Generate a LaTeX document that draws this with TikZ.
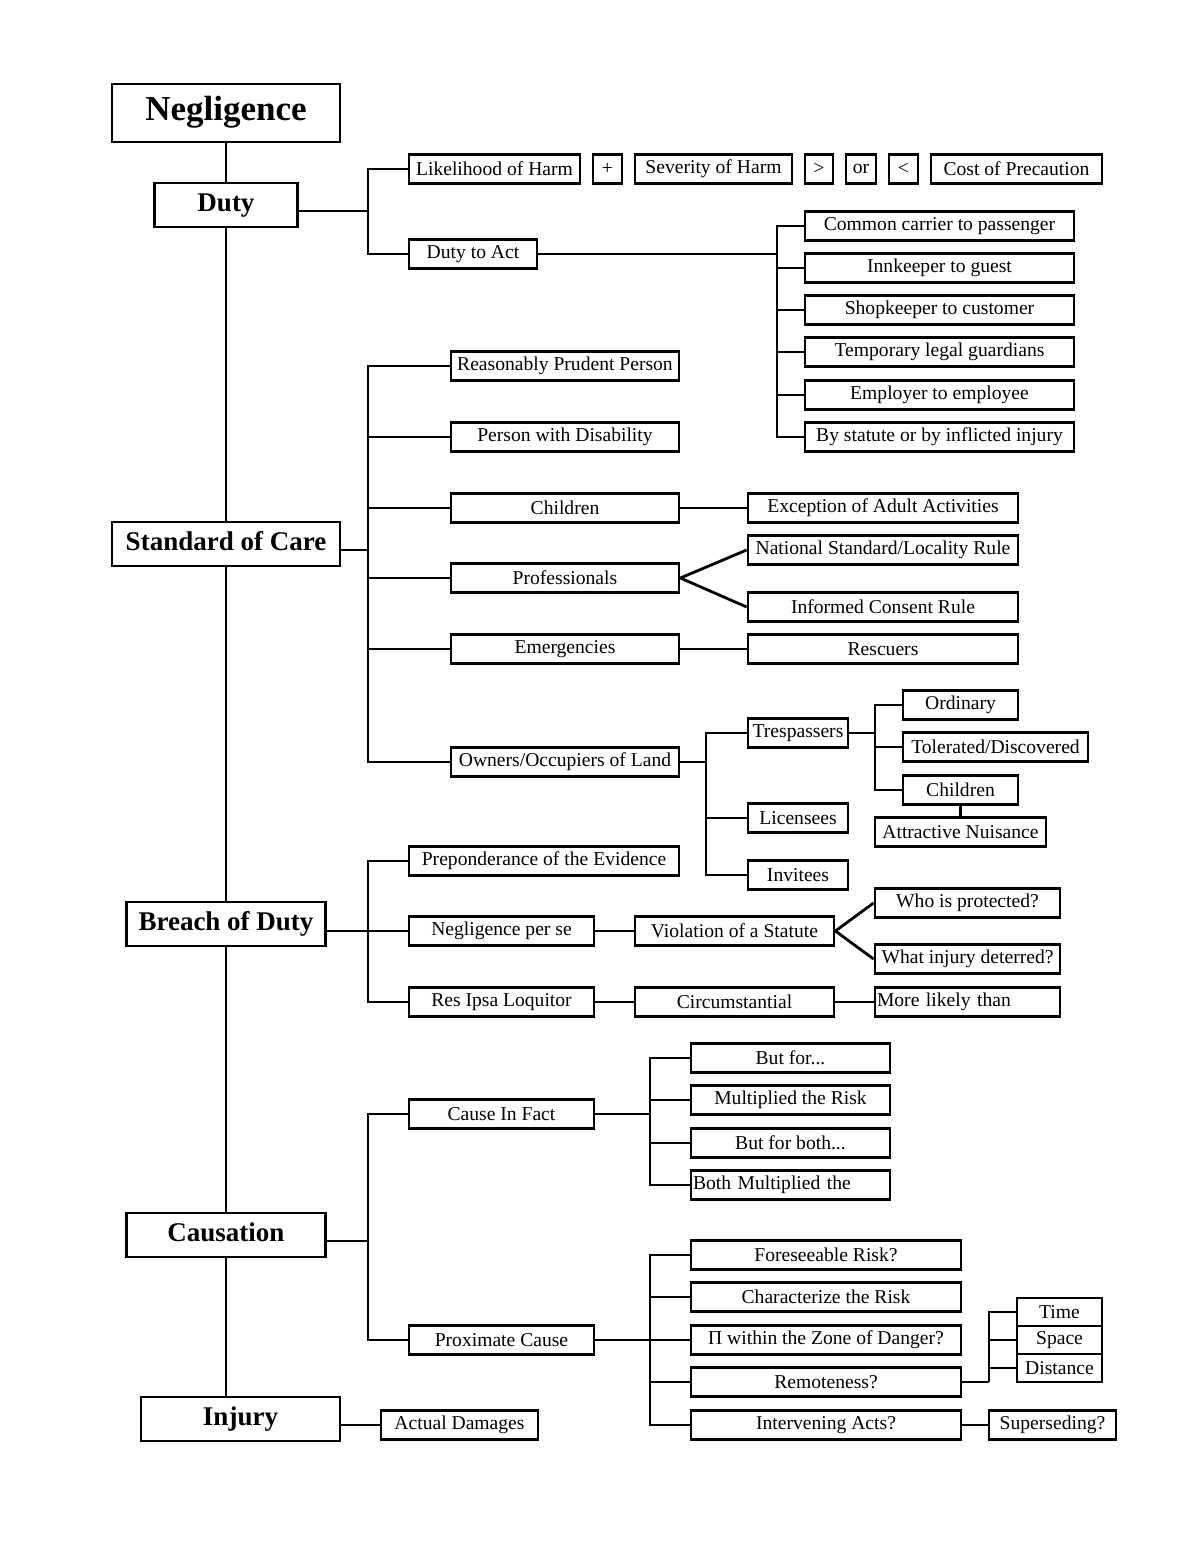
\documentclass[tikz,border=0pt]{standalone}
\usepackage{fontspec}
\setmainfont{Liberation Serif}
\usetikzlibrary{positioning}

\begin{document}
\begin{tikzpicture}[x=0.5pt,y=-0.5pt,line width=1.4pt,
    head/.style={draw,rectangle,inner sep=1pt,minimum height=22pt,text height=9.5pt,text depth=3.2pt,font=\bfseries\fontsize{13.5}{16}\selectfont},
    leaf/.style={draw,rectangle,inner sep=1pt,minimum height=14.8pt,font=\fontsize{9.8}{11}\selectfont},
    flush/.style={leaf,align=left,text width=#1}]
    \fill[white] (0,0) rectangle (1200,1553);

    % main headings
    \node[head, minimum width=114pt, minimum height=29pt, text height=12pt, text depth=4.5pt, font=\bfseries\fontsize{17.5}{20}\selectfont] (neg) at (226,113) {Negligence};
    \node[head, minimum width=71.5pt] (duty) at (226,205) {Duty};
    \node[head, minimum width=114pt] (soc) at (226,544) {Standard of Care};
    \node[head, minimum width=99.5pt] (bod) at (226,924) {Breach of Duty};
    \node[head, minimum width=99.5pt] (cau) at (226,1235) {Causation};
    \node[head, minimum width=99.5pt] (inj) at (240.5,1419) {Injury};

    % duty
    \node[leaf, minimum width=85.5pt] (lik) at (494.5,169) {Likelihood of Harm};
    \node[leaf, minimum width=14.5pt] (plus) [right=5.1pt of lik] {+};
    \node[leaf, minimum width=78.5pt] (sev) [right=5.1pt of plus] {Severity of Harm};
    \node[leaf, minimum width=14pt] (gt) [right=5.1pt of sev] {>};
    \node[leaf, minimum width=15pt] (or) [right=5.1pt of gt] {or};
    \node[leaf, minimum width=14.5pt] (lt) [right=5.1pt of or] {<};
    \node[leaf, minimum width=85.5pt] (cost) [right=5.1pt of lt] {Cost of Precaution};
    \node[leaf, minimum width=64pt] (act) at (473,254) {Duty to Act};

    \node[leaf, minimum width=134.5pt] (cc) at (939.5,226) {Common carrier to passenger};
    \node[leaf, minimum width=134.5pt] (inn) at (939.5,268) {Innkeeper to guest};
    \node[leaf, minimum width=134.5pt] (shop) at (939.5,310) {Shopkeeper to customer};
    \node[leaf, minimum width=134.5pt] (temp) at (939.5,352) {Temporary legal guardians};
    \node[leaf, minimum width=134.5pt] (emp) at (939.5,395) {Employer to employee};
    \node[leaf, minimum width=134.5pt] (stat) at (939.5,437) {By statute or by inflicted injury};

    % standard of care
    \node[leaf, minimum width=114pt] (rpp) at (565,366) {Reasonably Prudent Person};
    \node[leaf, minimum width=114pt] (pwd) at (565,437) {Person with Disability};
    \node[leaf, minimum width=114pt] (chi) at (565,508) {Children};
    \node[leaf, minimum width=114pt] (pro) at (565,578) {Professionals};
    \node[leaf, minimum width=114pt] (eme) at (565,649) {Emergencies};
    \node[leaf, minimum width=114pt] (own) at (565,762) {Owners/Occupiers of Land};

    \node[leaf, minimum width=135pt] (exc) at (883,508) {Exception of Adult Activities};
    \node[leaf, minimum width=135pt] (nat) at (883,550) {National Standard/Locality Rule};
    \node[leaf, minimum width=135pt] (inf) at (883,607) {Informed Consent Rule};
    \node[leaf, minimum width=135pt] (res) at (883,649) {Rescuers};

    \node[leaf, minimum width=50pt] (tre) at (798,733) {Trespassers};
    \node[leaf, minimum width=50pt] (lic) at (798,818) {Licensees};
    \node[leaf, minimum width=50pt] (inv) at (798,875) {Invitees};
    \node[leaf, minimum width=57.5pt] (ord) at (960.5,705) {Ordinary};
    \node[leaf, minimum width=92.5pt] (tol) at (995.5,747) {Tolerated/Discovered};
    \node[leaf, minimum width=57.5pt] (chl) at (960.5,790) {Children};
    \node[leaf, minimum width=85.5pt] (att) at (960.5,832) {Attractive Nuisance};

    % breach of duty
    \node[leaf, minimum width=135pt] (pre) at (544,861) {Preponderance of the Evidence};
    \node[leaf, minimum width=92.5pt] (nps) at (501.5,931) {Negligence per se};
    \node[leaf, minimum width=92.5pt] (rip) at (501.5,1002) {Res Ipsa Loquitor};
    \node[leaf, minimum width=99.5pt] (vio) at (734.5,931) {Violation of a Statute};
    \node[leaf, minimum width=99.5pt] (cir) at (734.5,1002) {Circumstantial};
    \node[leaf, minimum width=92.5pt] (who) at (967.5,903) {Who is protected?};
    \node[leaf, minimum width=92.5pt] (wha) at (967.5,959) {What injury deterred?};
    \node[flush=90.5pt] (mlt) at (967.5,1002) {More likely than};

    % causation
    \node[leaf, minimum width=92.5pt] (cif) at (501.5,1114) {Cause In Fact};
    \node[leaf, minimum width=92.5pt] (pxc) at (501.5,1340) {Proximate Cause};
    \node[leaf, minimum width=99.5pt] (bf) at (790.5,1058) {But for...};
    \node[leaf, minimum width=99.5pt] (mr) at (790.5,1100) {Multiplied the Risk};
    \node[leaf, minimum width=99.5pt] (bfb) at (790.5,1143) {But for both...};
    \node[flush=97.5pt] (bm) at (790.5,1185) {Both Multiplied the};
    \node[leaf, minimum width=135pt] (fr) at (826,1255) {Foreseeable Risk?};
    \node[leaf, minimum width=135pt] (cr) at (826,1297) {Characterize the Risk};
    \node[leaf, minimum width=135pt] (pz) at (826,1340) {Π within the Zone of Danger?};
    \node[leaf, minimum width=135pt] (rem) at (826,1382) {Remoteness?};
    \node[leaf, minimum width=135pt] (ia) at (826,1425) {Intervening Acts?};
    \node[leaf, minimum width=42.5pt, minimum height=14pt] (tim) at (1059.5,1312) {Time};
    \node[leaf, minimum width=42.5pt, minimum height=14pt] (spa) at (1059.5,1340) {Space};
    \node[leaf, minimum width=42.5pt, minimum height=14pt] (dis) at (1059.5,1368) {Distance};
    \node[leaf, minimum width=63.5pt] (sup) at (1052.5,1425) {Superseding?};

    % injury
    \node[leaf, minimum width=78.5pt] (ad) at (459.5,1425) {Actual Damages};

    % junctions
    \coordinate (j1) at (368,211);
    \coordinate (j2) at (777,254);
    \coordinate (j3) at (368,550);
    \coordinate (j4) at (706,762);
    \coordinate (j5) at (875,733);
    \coordinate (j6) at (368,931);
    \coordinate (j7) at (368,1241);
    \coordinate (j8) at (650,1114);
    \coordinate (j9) at (650,1340);
    \coordinate (j10) at (989,1382);

    % spine
    \path (neg) edge (duty)
          (duty) edge (soc)
          (soc) edge (bod)
          (bod) edge (cau);
    \draw (cau.south) -- (cau.south |- inj.north);

    % duty lines
    \draw (duty.east |- j1) -- (j1);
    \draw (lik.west) -| (j1) |- (act.west);
    \draw (act.east) -- (j2);
    \draw (cc.west) -| (j2) |- (stat.west);
    \draw (inn.west) -- (inn.west -| j2)
          (shop.west) -- (shop.west -| j2)
          (temp.west) -- (temp.west -| j2)
          (emp.west) -- (emp.west -| j2);

    % standard of care lines
    \draw (soc.east |- j3) -- (j3);
    \draw (rpp.west) -| (j3) |- (own.west);
    \draw (pwd.west) -- (pwd.west -| j3)
          (chi.west) -- (chi.west -| j3)
          (pro.west) -- (pro.west -| j3)
          (eme.west) -- (eme.west -| j3);
    \path (chi) edge (exc)
          (eme) edge (res);
    \draw (pro.east) -- (nat.west)
          (pro.east) -- (inf.west);
    \draw (own.east) -- (j4);
    \draw (tre.west) -| (j4) |- (inv.west);
    \draw (lic.west) -- (lic.west -| j4);
    \draw (tre.east) -- (j5);
    \draw (ord.west) -| (j5) |- (chl.west);
    \draw (tol.west) -- (tol.west -| j5);
    \path (chl) edge (att);

    % breach lines
    \draw (bod.east |- j6) -- (nps.west);
    \draw (pre.west) -| (j6) |- (rip.west);
    \path (nps) edge (vio)
          (rip) edge (cir)
          (cir) edge (mlt);
    \draw (vio.east) -- (who.west)
          (vio.east) -- (wha.west);

    % causation lines
    \draw (cau.east |- j7) -- (j7);
    \draw (cif.west) -| (j7) |- (pxc.west);
    \draw (cif.east) -- (j8);
    \draw (bf.west) -| (j8) |- (bm.west);
    \draw (mr.west) -- (mr.west -| j8)
          (bfb.west) -- (bfb.west -| j8);
    \draw (pxc.east) -- (pz.west);
    \draw (fr.west) -| (j9) |- (ia.west);
    \draw (cr.west) -- (cr.west -| j9)
          (rem.west) -- (rem.west -| j9);
    \draw (rem.east) -- (j10);
    \draw (tim.west) -| (j10);
    \draw (spa.west) -- (spa.west -| j10)
          (dis.west) -- (dis.west -| j10);
    \path (ia) edge (sup);

    % injury line
    \draw (inj.east |- ad.west) -- (ad.west);
\end{tikzpicture}
\end{document}
